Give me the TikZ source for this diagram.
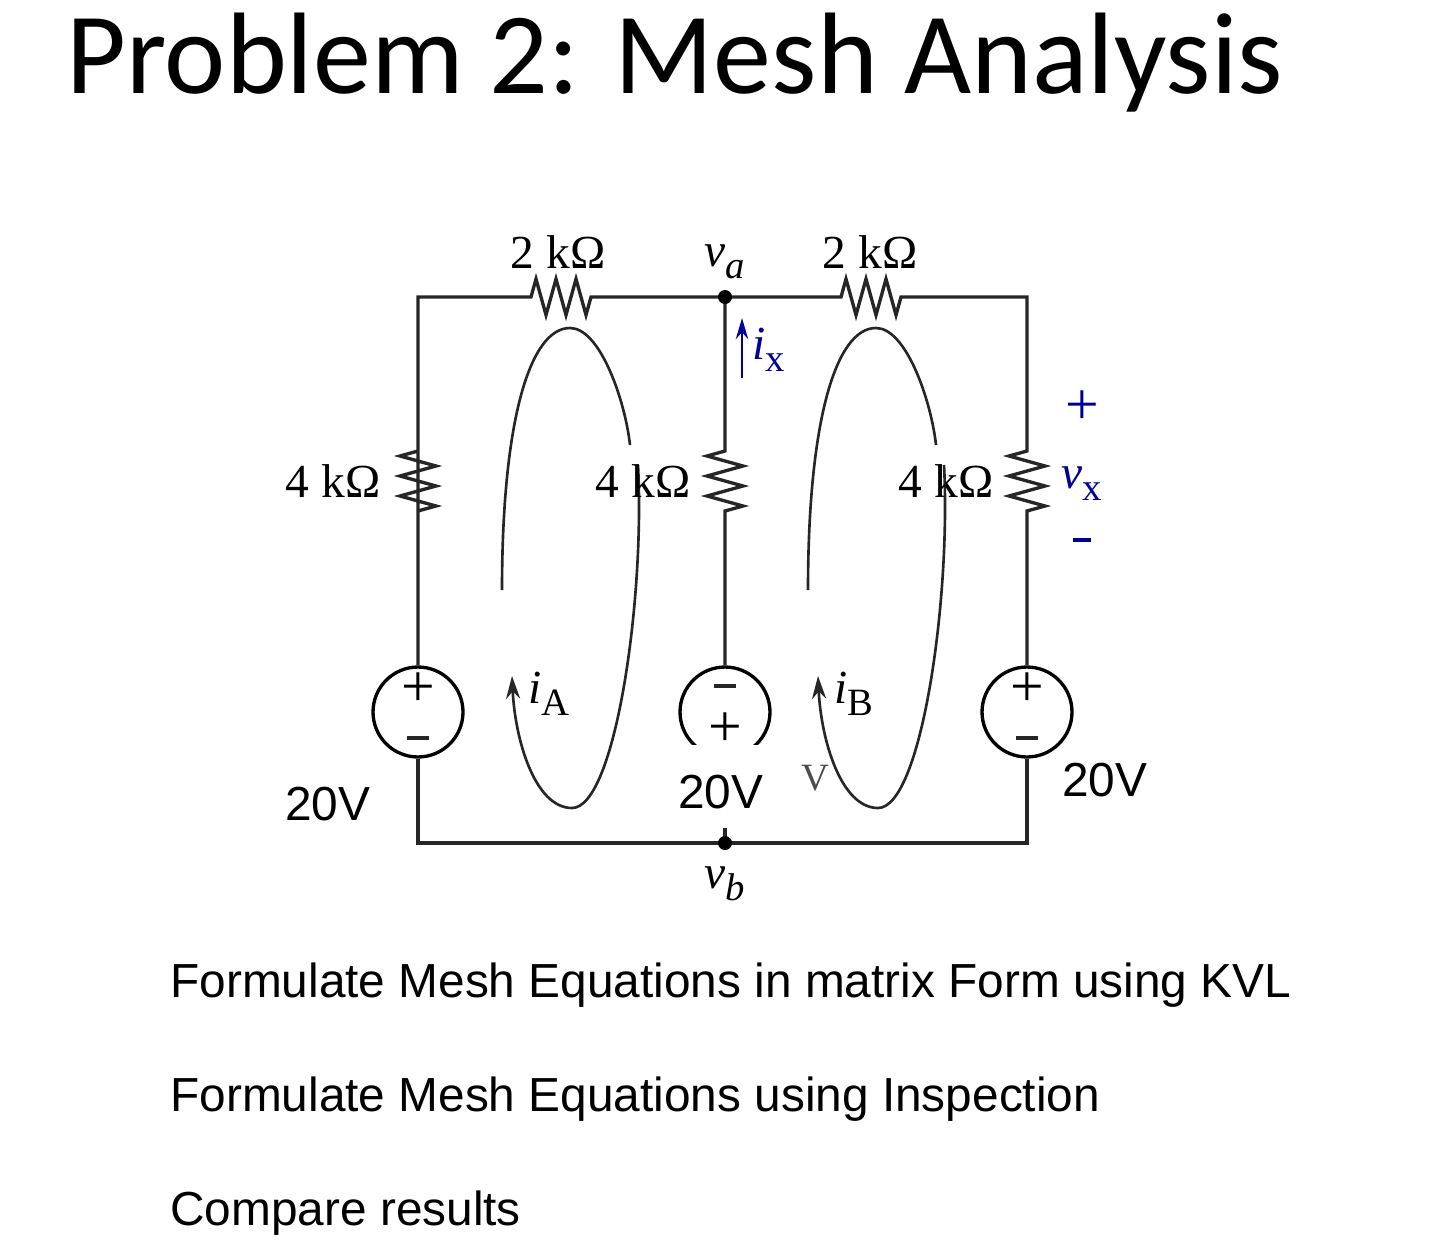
\documentclass[tikz,border=0pt]{standalone}
\usepackage{fontspec}
\setmainfont{Liberation Serif}
\newfontfamily\calfont{Carlito}
\newfontfamily\ari{Liberation Sans}
\usetikzlibrary{arrows.meta}
\begin{document}
\begin{tikzpicture}[x=0.02cm,y=-0.02cm,
  wire/.style={line width=1.9pt,black!85},
  loop/.style={line width=1.5pt,black!85},
  lab/.style={font=\fontsize{27}{30}\selectfont,inner sep=0pt},
  big/.style={font=\ari\fontsize{27.2}{30}\selectfont,inner sep=0pt,anchor=base west},
  sgn/.style={font=\fontsize{34}{34}\selectfont,inner sep=0pt},
  bar/.style={line width=2pt,black!85},
  src/.style={circle,draw,line width=1.9pt,minimum size=1.8cm,inner sep=0pt}]
\useasboundingbox (0,0) rectangle (1432,1247);
\node[font=\calfont\fontsize{66}{70}\selectfont,anchor=base west,inner sep=0pt] (title) at (66,93) {Problem 2: Mesh Analysis};
% nodes
\coordinate (tl) at (418,297); \coordinate (tr) at (1027,297);
\coordinate (bl) at (418,843); \coordinate (br) at (1027,843);
\coordinate (va) at (725,297); \coordinate (vb) at (725,843);
\node[src] (s1) at (418,712) {};
\node[src] (s2) at (725,712) {};
\node[src] (s3) at (1027,712) {};
% wires with resistors
\def\hres#1{-- ++(6,0) -- ++(5,-18) -- ++(10,36) -- ++(10,-36) -- ++(10,36) -- ++(10,-36) -- ++(10,36) -- ++(5,-18)}
\def\vres#1{-- ++(0,6) -- ++(-18,5) -- ++(36,10) -- ++(-36,10) -- ++(36,10) -- ++(-36,10) -- ++(36,10) -- ++(-18,5)}
\draw[wire] (s1.north) -- (418,445) \vres{} -- (tl) -- (525,297) \hres{} -- (va) -- (835,297) \hres{} -- (tr) -- (1027,445) \vres{} -- (s3.north);
\draw[wire] (va) -- (725,445) \vres{} -- (s2.north);
\draw[wire] (s1.south) -- (bl) -- (br) -- (s3.south);
\draw[wire] (725,828) -- (vb);
\fill (va) circle (7); \fill (vb) circle (7);
% white patch under centre source
\fill[white] (680,745) rectangle (770,790);
% signs
\node[sgn] at (418,690) {+};
\node[sgn] at (1027,690) {+};
\draw[bar] (407,738) -- (429,738);
\draw[bar] (1016,738) -- (1038,738);
\draw[bar] (714,686) -- (736,686);
\node[sgn] at (725,730) {+};
% mesh loops
\foreach \dx/\m in {0/A,306/B}{
 \begin{scope}[xshift=\dx*0.02cm]
 \draw[loop] (502,590) .. controls (502,420) and (530,328) .. (570,328) .. controls (600,328) and (625,400) .. (630,445);
 \draw[loop,-{Stealth[length=13pt,width=8pt]}] (638,465) .. controls (645,600) and (615,808) .. (572,808) .. controls (535,808) and (515,740) .. (512,676);
 \node[lab,anchor=west] at (528,694) {\textit{i}\raisebox{-0.25em}{\fontsize{22}{22}\selectfont \m}};
 \end{scope}}
% labels
\node[lab] (r1) at (558,252) {2 kΩ};
\node[lab] (r2) at (870,252) {2 kΩ};
\node[lab] (r3) at (333,481) {4 kΩ};
\node[lab] (r4) at (643,481) {4 kΩ};
\node[lab] (r5) at (946,481) {4 kΩ};
\node[lab] (vaL) at (725,262) {\textit{v}\raisebox{-0.25em}{\fontsize{22}{22}\selectfont\itshape a}};
\node[lab] (vbL) at (725,884) {\textit{v}\raisebox{-0.25em}{\fontsize{22}{22}\selectfont\itshape b}};
\draw[blue!60!black,line width=1.6pt,-{Stealth[length=12pt,width=7pt]}] (742,378) -- (742,318);
\node[lab,blue!60!black,anchor=west] at (752,350) {\textit{i}\raisebox{-0.25em}{\fontsize{22}{22}\selectfont x}};
\node[sgn,blue!60!black] at (1082,408) {+};
\node[lab,blue!60!black] at (1082,484) {\textit{v}\raisebox{-0.25em}{\fontsize{22}{22}\selectfont x}};
\draw[blue!60!black,line width=2pt] (1073,540) -- (1091,540);
\node[font=\fontsize{22}{22}\selectfont,inner sep=0pt,black!70] at (815,778) {V};
\node[big] at (285,820) {20V};
\node[big] at (678,808) {20V};
\node[big] at (1062,796) {20V};
\node[big] at (170,997) {Formulate Mesh Equations in matrix Form using KVL};
\node[big] at (170,1111) {Formulate Mesh Equations using Inspection};
\node[big] at (170,1225) {Compare results};
\end{tikzpicture}
\end{document}
